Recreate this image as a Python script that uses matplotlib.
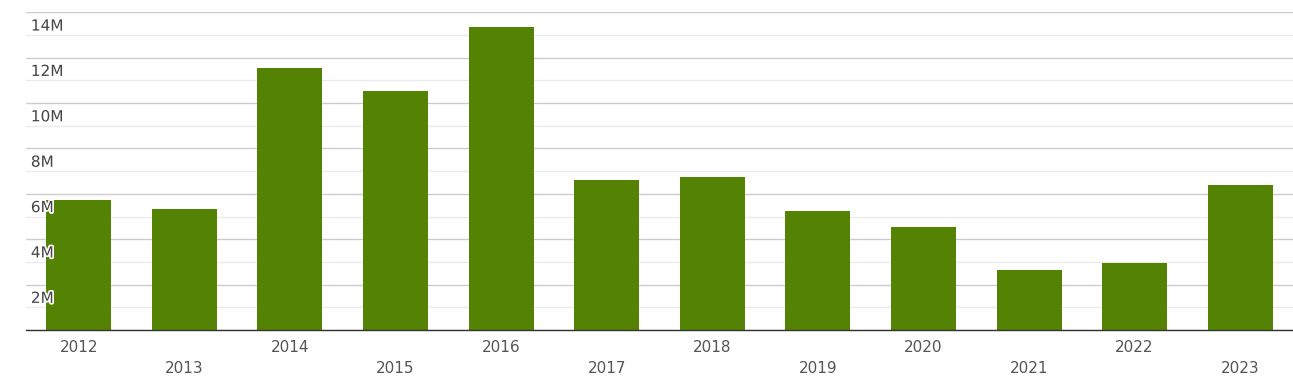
import matplotlib
matplotlib.use("Agg")
import matplotlib.pyplot as plt
import matplotlib.patheffects as pe
from matplotlib.ticker import MultipleLocator

# Data (values in millions)
years = ["2012", "2013", "2014", "2015", "2016", "2017",
         "2018", "2019", "2020", "2021", "2022", "2023"]
values = [5.73, 5.33, 11.54, 10.53, 13.35, 6.61,
          6.74, 5.24, 4.54, 2.64, 2.95, 6.39]
y_ticks = [2, 4, 6, 8, 10, 12, 14]
y_labels = ["2M", "4M", "6M", "8M", "10M", "12M", "14M"]

BAR_COLOR = "#548203"
TEXT_COLOR = "#555555"

fig = plt.figure(figsize=(12.93, 3.84), dpi=100)
H = 384
ax = fig.add_axes([26 / 1293, (384 - 330) / H, 1 - 26 / 1293, (330 - 12.3) / H])

x = list(range(len(years)))
ax.bar(x, values, width=0.615, color=BAR_COLOR, zorder=2)

ax.set_xlim(-0.5, len(years) - 0.5)
ax.set_ylim(0, 14)

# gridlines
ax.yaxis.set_major_locator(MultipleLocator(2))
ax.yaxis.set_minor_locator(MultipleLocator(1))
ax.grid(axis="y", which="major", color="#cccccc", linewidth=1, zorder=0)
ax.grid(axis="y", which="minor", color="#ebebeb", linewidth=1, zorder=0)
ax.tick_params(axis="y", which="both", left=False, labelleft=False)

for s in ["top", "right", "left"]:
    ax.spines[s].set_visible(False)
ax.spines["bottom"].set_color("#333333")
ax.spines["bottom"].set_linewidth(1)
ax.spines["bottom"].set_zorder(3)

# y labels inside the plot, just below each gridline, with a white halo
halo = [pe.withStroke(linewidth=2.5, foreground="white")]
for v, lab in zip(y_ticks, y_labels):
    ax.annotate(lab, xy=(0, v), xycoords=("axes fraction", "data"),
                xytext=(3.5, -4.5), textcoords="offset points",
                ha="left", va="top", fontsize=11, color="#444444",
                path_effects=halo, zorder=4)

# staggered x labels
ax.set_xticks(x)
ax.set_xticklabels([])
ax.tick_params(axis="x", length=0)
for i, yr in enumerate(years):
    off = -12.5 if i % 2 == 0 else -27.5
    ax.annotate(yr, xy=(i, 0), xycoords=("data", "data"),
                xytext=(0, off), textcoords="offset points",
                ha="center", va="center", fontsize=11, color=TEXT_COLOR)

fig.savefig("out.png", dpi=100)
